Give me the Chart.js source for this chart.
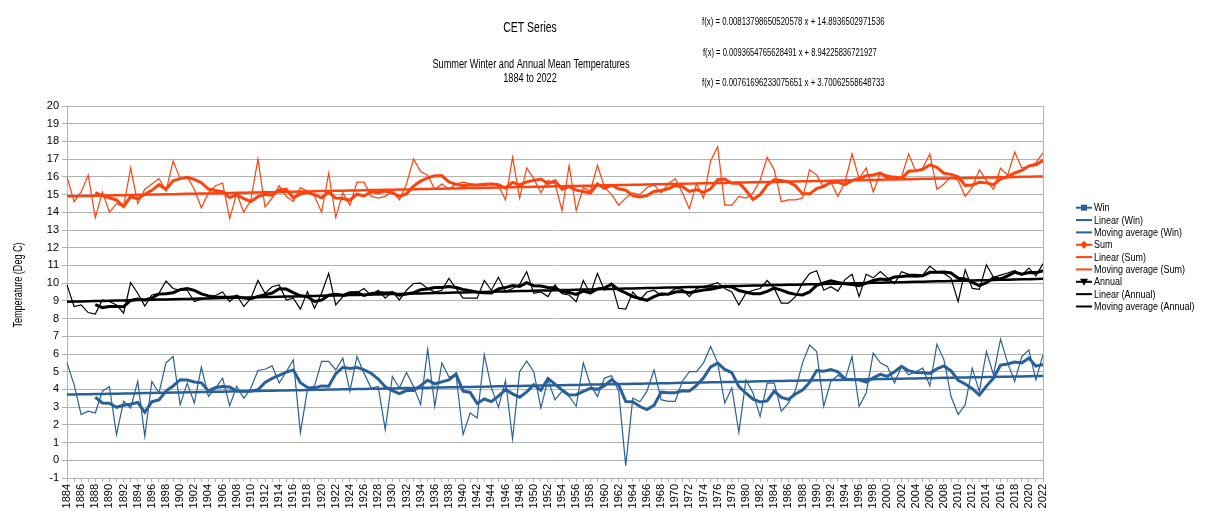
<!DOCTYPE html>
<html>
<head>
<meta charset="utf-8">
<script src="https://cdn.jsdelivr.net/npm/chart.js@4.4.1/dist/chart.umd.min.js"></script>
<style>
  html, body { margin: 0; padding: 0; background: #fff; }
</style>
</head>
<body>
<canvas id="cet" width="1209" height="511"></canvas>
<script>
// years 1884..2022
const years = [];
for (let y = 1884; y <= 2022; y++) years.push(String(y));

// winter (DJF) mean, deg C
const winter = [
  5.5, 4.27, 2.58, 2.77, 2.67, 3.9, 4.17, 1.45, 3.33, 2.95,
  4.45, 1.36, 4.45, 3.8, 5.5, 5.86, 3.14, 4.36, 3.23, 5.26,
  3.6, 4.08, 4.64, 3.08, 4.17, 3.5, 4.08, 5.07, 5.14, 5.33,
  4.36, 5.0, 5.67, 1.55, 4.0, 4.2, 5.58, 5.58, 5.1, 5.77,
  3.9, 5.86, 4.92, 4.08, 4.17, 1.73, 4.73, 4.08, 4.96, 4.17,
  3.14, 6.27, 3.05, 5.5, 4.7, 4.83, 1.45, 2.67, 2.39, 5.96,
  4.1, 3.0, 4.5, 1.2, 5.0, 5.6, 5.0, 2.95, 4.54, 3.42,
  3.9, 3.6, 3.05, 5.5, 4.27, 3.6, 4.64, 4.77, 3.9, -0.3,
  3.5, 3.3, 3.9, 5.1, 3.42, 3.33, 3.33, 4.45, 5.0, 5.0,
  5.5, 6.42, 5.5, 3.23, 4.08, 1.58, 4.54, 3.8, 2.48, 4.36,
  4.36, 2.77, 3.23, 3.97, 5.5, 6.5, 6.14, 3.05, 4.45, 4.8,
  4.54, 5.86, 3.05, 3.8, 6.05, 5.5, 5.3, 4.36, 5.3, 4.83,
  5.0, 5.2, 4.2, 6.55, 5.67, 3.6, 2.58, 3.14, 5.2, 3.88,
  6.14, 4.83, 6.84, 5.5, 4.45, 5.86, 6.23, 4.54, 5.96
];

// summer (JJA) mean, deg C
const summer = [
  16.0, 14.6, 15.15, 16.1, 13.7, 15.15, 14.0, 14.5, 14.3, 16.5,
  14.5, 15.3, 15.6, 15.9, 15.2, 16.9, 15.9, 16.0, 15.3, 14.25,
  15.1, 15.5, 15.65, 13.65, 15.05, 14.0, 14.7, 17.0, 14.3, 14.8,
  15.5, 14.9, 14.6, 15.4, 15.2, 14.9, 14.0, 16.2, 13.7, 15.1,
  14.4, 15.7, 15.7, 14.9, 14.8, 14.9, 15.2, 14.7, 15.6, 17.0,
  16.3, 16.1, 15.3, 15.6, 15.3, 15.6, 15.7, 15.6, 15.5, 15.5,
  15.65, 15.5, 14.7, 17.1, 14.8, 16.5, 15.9, 15.1, 15.8, 15.6,
  14.1, 16.65, 14.1, 15.4, 15.2, 16.65, 15.4, 15.0, 14.4, 14.8,
  15.1, 15.0, 15.4, 15.55, 15.1, 15.6, 15.9, 15.1, 14.2, 15.6,
  14.8, 16.9, 17.7, 14.4, 14.4, 14.9, 14.8, 15.1, 15.8, 17.1,
  16.4, 14.6, 14.7, 14.7, 14.8, 16.4, 16.1, 15.4, 15.7, 14.9,
  15.7, 17.3, 15.9, 16.5, 15.15, 16.2, 16.1, 16.0, 16.0, 17.3,
  16.3, 16.5, 17.3, 15.3, 15.6, 16.0, 15.8, 14.9, 15.4, 16.4,
  15.8, 15.3, 16.5, 16.1, 17.4, 16.5, 16.6, 16.8, 17.35
];

// annual mean, deg C
const annual = [
  9.9, 8.68, 8.77, 8.34, 8.26, 9.05, 8.96, 8.77, 8.3, 10.03,
  9.43, 8.71, 9.33, 9.43, 10.12, 9.7, 9.6, 9.6, 8.96, 9.1,
  9.15, 9.3, 9.5, 8.96, 9.33, 8.68, 9.15, 10.15, 9.43, 9.8,
  9.9, 9.05, 9.15, 8.53, 9.52, 8.58, 9.43, 10.55, 8.77, 9.24,
  9.33, 9.46, 9.7, 9.3, 9.6, 9.15, 9.52, 9.05, 9.6, 9.98,
  10.0, 9.7, 9.5, 9.6, 10.27, 9.7, 9.15, 9.15, 9.15, 10.15,
  9.6, 10.33, 9.52, 9.7, 9.93, 10.65, 9.43, 9.5, 9.24, 9.9,
  9.4, 9.33, 8.96, 10.15, 9.4, 10.55, 9.6, 10.0, 8.58, 8.53,
  9.5, 9.05, 9.5, 9.6, 9.3, 9.4, 9.7, 9.65, 9.24, 9.7,
  9.8, 9.9, 10.03, 9.7, 9.5, 8.77, 9.43, 9.6, 9.7, 10.15,
  9.7, 8.87, 8.87, 9.24, 10.0, 10.55, 10.7, 9.6, 9.8, 9.55,
  10.2, 10.5, 9.24, 10.5, 10.3, 10.65, 10.3, 9.98, 10.65, 10.5,
  10.5, 10.45, 10.96, 10.65, 10.55, 10.27, 8.96, 10.75, 9.7, 9.65,
  11.04, 10.33, 10.45, 10.57, 10.7, 10.45, 10.85, 10.4, 11.1
];

// trend lines as printed on the chart: f(x) = slope * x + intercept, x = 1..139
const trendSum = [0.00813798650520578, 14.8936502971536];
const trendAnnual = [0.0093654765628491, 8.94225836721927];
const trendWin = [0.00761696233075651, 3.70062558648733];
const equations = [
  'f(x) = 0.00813798650520578 x + 14.8936502971536',
  'f(x) = 0.0093654765628491 x + 8.94225836721927',
  'f(x) = 0.00761696233075651 x + 3.70062558648733'
];
const MA_PERIOD = 5;

const BLUE = '#2a6099';
const ORANGE = '#ff420e';
const BLACK = '#000000';
const FONT = '"Liberation Sans", Arial, sans-serif';

function movingAvg(arr) {
  return arr.map((v, i) => {
    if (i < MA_PERIOD - 1) return null;
    let s = 0;
    for (let k = i - MA_PERIOD + 1; k <= i; k++) s += arr[k];
    return s / MA_PERIOD;
  });
}
function trend(c) {
  return years.map((_, i) => c[0] * (i + 1) + c[1]);
}
function line(label, data, color, width) {
  return {
    label: label, data: data,
    borderColor: color, backgroundColor: color,
    borderWidth: width, pointRadius: 0, pointHoverRadius: 0,
    fill: false, tension: 0, spanGaps: false
  };
}

const legendItems = [
  { text: 'Win', color: BLUE, marker: 'square' },
  { text: 'Linear (Win)', color: BLUE },
  { text: 'Moving average (Win)', color: BLUE },
  { text: 'Sum', color: ORANGE, marker: 'diamond' },
  { text: 'Linear (Sum)', color: ORANGE },
  { text: 'Moving average (Sum)', color: ORANGE },
  { text: 'Annual', color: BLACK, marker: 'triangle' },
  { text: 'Linear (Annual)', color: BLACK },
  { text: 'Moving average (Annual)', color: BLACK }
];

function squeezed(ctx, text, x, y, size, sx, align) {
  ctx.save();
  ctx.translate(x, y);
  ctx.scale(sx, 1);
  ctx.font = size + 'px ' + FONT;
  ctx.fillStyle = '#000';
  ctx.textAlign = align || 'left';
  ctx.textBaseline = 'alphabetic';
  ctx.fillText(text, 0, 0);
  ctx.restore();
}

const decorations = {
  id: 'decorations',
  afterDraw(chart) {
    const ctx = chart.ctx;
    const a = chart.chartArea;

    // right frame line
    ctx.save();
    ctx.strokeStyle = '#b3b3b3';
    ctx.lineWidth = 1;
    ctx.beginPath();
    ctx.moveTo(Math.round(a.right) + 0.5, a.top);
    ctx.lineTo(Math.round(a.right) + 0.5, a.bottom);
    ctx.stroke();
    ctx.restore();

    // titles
    squeezed(ctx, 'CET Series', 530, 32, 15, 0.7, 'center');
    squeezed(ctx, 'Summer Winter and Annual Mean Temperatures', 531, 68, 12.5, 0.735, 'center');
    squeezed(ctx, '1884 to 2022', 530, 81.5, 12.5, 0.735, 'center');

    // equations
    squeezed(ctx, equations[0], 702, 25, 10, 0.78, 'left');
    squeezed(ctx, equations[1], 703, 56, 10, 0.76, 'left');
    squeezed(ctx, equations[2], 702, 85.5, 10, 0.78, 'left');

    // y axis title
    ctx.save();
    ctx.translate(21.5, 285);
    ctx.rotate(-Math.PI / 2);
    ctx.scale(0.755, 1);
    ctx.font = '12px ' + FONT;
    ctx.fillStyle = '#000';
    ctx.textAlign = 'center';
    ctx.fillText('Temperature (Deg C)', 0, 0);
    ctx.restore();

    // legend
    legendItems.forEach((it, i) => {
      const y = 207.7 + i * 12.35;
      ctx.save();
      ctx.strokeStyle = it.color;
      ctx.fillStyle = it.color;
      ctx.lineWidth = 2;
      ctx.beginPath();
      ctx.moveTo(1076, y);
      ctx.lineTo(1092, y);
      ctx.stroke();
      const cx = 1084;
      if (it.marker === 'square') {
        ctx.fillRect(cx - 3, y - 3, 6, 6);
      } else if (it.marker === 'diamond') {
        ctx.beginPath();
        ctx.moveTo(cx, y - 4); ctx.lineTo(cx + 4, y); ctx.lineTo(cx, y + 4); ctx.lineTo(cx - 4, y);
        ctx.closePath(); ctx.fill();
      } else if (it.marker === 'triangle') {
        ctx.beginPath();
        ctx.moveTo(cx - 4, y - 3); ctx.lineTo(cx + 4, y - 3); ctx.lineTo(cx, y + 4);
        ctx.closePath(); ctx.fill();
      }
      ctx.restore();
      squeezed(ctx, it.text, 1094, y + 3.5, 10, 0.9, 'left');
    });
  }
};

new Chart(document.getElementById('cet'), {
  type: 'line',
  data: {
    labels: years,
    datasets: [
      line('Win', winter, BLUE, 1.2),
      line('Linear (Win)', trend(trendWin), BLUE, 2.5),
      line('Moving average (Win)', movingAvg(winter), BLUE, 3),
      line('Sum', summer, ORANGE, 1.2),
      line('Linear (Sum)', trend(trendSum), ORANGE, 2.5),
      line('Moving average (Sum)', movingAvg(summer), ORANGE, 3),
      line('Annual', annual, BLACK, 1.2),
      line('Linear (Annual)', trend(trendAnnual), BLACK, 2.5),
      line('Moving average (Annual)', movingAvg(annual), BLACK, 3)
    ]
  },
  options: {
    responsive: false,
    animation: false,
    devicePixelRatio: 1,
    layout: { padding: { top: 106, right: 166, left: 0, bottom: 0 } },
    plugins: {
      legend: { display: false },
      title: { display: false },
      tooltip: { enabled: false }
    },
    scales: {
      x: {
        offset: false,
        afterFit: (scale) => { scale.height = 33; },
        grid: {
          drawOnChartArea: false,
          color: '#b3b3b3',
          tickLength: 4
        },
        border: { color: '#b3b3b3' },
        ticks: {
          autoSkip: false,
          maxRotation: 90,
          minRotation: 90,
          padding: 2,
          color: '#000',
          font: { family: FONT, size: 11 },
          callback: function (val, idx) {
            return idx % 2 === 0 ? this.getLabelForValue(val) : '';
          }
        }
      },
      y: {
        min: -1,
        max: 20,
        afterFit: (scale) => { scale.width = 67; },
        grid: {
          color: '#b3b3b3',
          tickLength: 5
        },
        border: { color: '#b3b3b3' },
        ticks: {
          stepSize: 1,
          padding: 3,
          color: '#000',
          font: { family: FONT, size: 11 }
        }
      }
    }
  },
  plugins: [decorations]
});
</script>
</body>
</html>
